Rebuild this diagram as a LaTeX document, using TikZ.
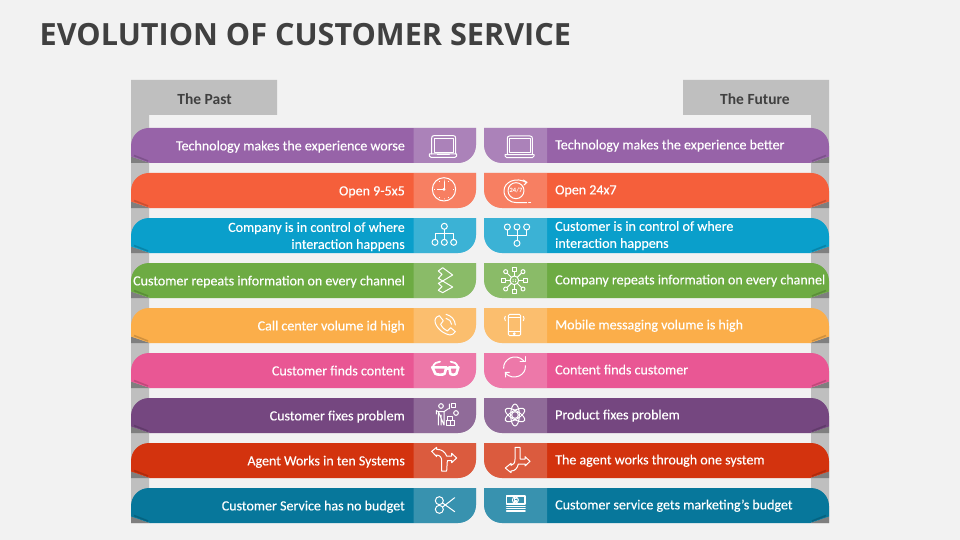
\documentclass[tikz,border=0pt]{standalone}
\usepackage{fontspec}
\setmainfont{Carlito}
\newfontfamily\titlefont{Open Sans}
\newfontfamily\barfont[FakeBold=0.25]{Carlito}
\definecolor{bgc}{HTML}{F2F2F2}
\definecolor{grayc}{HTML}{BFBFBF}
\definecolor{foldc}{HTML}{7F7F7F}
\definecolor{inkc}{HTML}{404040}
\definecolor{cpurple}{HTML}{9763A8}
\definecolor{corange}{HTML}{F55F3B}
\definecolor{cblue}{HTML}{0A9FCB}
\definecolor{cgreen}{HTML}{6DAB43}
\definecolor{cyellow}{HTML}{FBAE4A}
\definecolor{cpink}{HTML}{E95794}
\definecolor{cdpurple}{HTML}{754780}
\definecolor{cred}{HTML}{D3330E}
\definecolor{cteal}{HTML}{07779B}
\tikzset{
  bartext/.style={text=white,inner sep=0pt,font=\fontsize{14}{17}\selectfont\barfont},
  lefttext/.style={bartext,anchor=east,align=right},
  righttext/.style={bartext,anchor=west,align=left},
  headtext/.style={text=inkc,inner sep=0pt,font=\fontsize{15.5}{18}\selectfont\bfseries},
  icon/.style={draw=white,line width=1pt,line join=round,line cap=round},
  zoomA/.style={shift={(400,255)},scale=1/3},
  zoomB/.style={shift={(400,390)},scale=1/3},
  zoomC/.style={shift={(120,70)},scale=1/3},
  zoomD/.style={shift={(480,70)},scale=1/3},
}
\newcommand{\barLeft}[4]{%
  \fill[foldc] (131,#1+28.5) -- (150,#1+35) -- (131,#1+35) -- cycle;
  \fill[#2] (131,#1+28.5) -- (131,#1+18) .. controls (131,#1+8) and (139,#1) .. (149,#1)
    -- (476,#1) -- (476,#1+17) .. controls (476,#1+27) and (468,#1+35) .. (458,#1+35)
    -- (150,#1+35) -- cycle;
  \draw[#2!70!black,line width=1.6pt,opacity=.55] (134,#1+27.5) -- (148,#1+33);
  \fill[white,opacity=.2] (413.5,#1) -- (476,#1) -- (476,#1+17) .. controls (476,#1+27) and (468,#1+35) .. (458,#1+35) -- (413.5,#1+35) -- cycle;
  \node[lefttext] (#3) at (405,#1+19) {\strut #4\strut};
}
\newcommand{\barRight}[4]{%
  \fill[foldc] (829,#1+28.5) -- (810,#1+35) -- (829,#1+35) -- cycle;
  \fill[#2] (829,#1+28.5) -- (829,#1+18) .. controls (829,#1+8) and (821,#1) .. (811,#1)
    -- (484,#1) -- (484,#1+17) .. controls (484,#1+27) and (492,#1+35) .. (502,#1+35)
    -- (810,#1+35) -- cycle;
  \draw[#2!70!black,line width=1.6pt,opacity=.55] (826,#1+27.5) -- (812,#1+33);
  \fill[white,opacity=.2] (547,#1) -- (484,#1) -- (484,#1+17) .. controls (484,#1+27) and (492,#1+35) .. (502,#1+35) -- (547,#1+35) -- cycle;
  \node[righttext] (#3) at (555,#1+18) {\strut #4\strut};
}
\begin{document}
\begin{tikzpicture}[x=1pt,y=-1pt]
\useasboundingbox (0,0) rectangle (960,540);
\fill[bgc] (0,0) rectangle (960,540);
\node[anchor=base west,inner sep=0pt,text=inkc,font=\fontsize{30.6}{36}\selectfont\titlefont\bfseries] (title) at (39.5,46) {EVOLUTION OF CUSTOMER SERVICE};
% brackets
\fill[grayc] (131,80) -- (277,80) -- (277,115) -- (149,115) -- (149,523) -- (131,523) -- cycle;
\fill[grayc] (829,80) -- (683,80) -- (683,115) -- (811,115) -- (811,523) -- (829,523) -- cycle;
\node[headtext] (past) at (204.5,99) {The Past};
\node[headtext] (future) at (755,99) {The Future};
% bars
\barLeft{128}{cpurple}{l1}{Technology makes the experience worse}
\barLeft{173}{corange}{l2}{Open 9-5x5}
\barLeft{218}{cblue}{l3}{Company is in control of where\\interaction happens}
\barLeft{263}{cgreen}{l4}{Customer repeats information on every channel}
\barLeft{308}{cyellow}{l5}{Call center volume id high}
\barLeft{353}{cpink}{l6}{Customer finds content}
\barLeft{398}{cdpurple}{l7}{Customer fixes problem}
\barLeft{443}{cred}{l8}{Agent Works in ten Systems}
\barLeft{488}{cteal}{l9}{Customer Service has no budget}
\barRight{128}{cpurple}{r1}{Technology makes the experience better}
\barRight{173}{corange}{r2}{Open 24x7}
\barRight{218}{cblue}{r3}{Customer is in control of where\\interaction happens}
\barRight{263}{cgreen}{r4}{Company repeats information on every channel}
\barRight{308}{cyellow}{r5}{Mobile messaging volume is high}
\barRight{353}{cpink}{r6}{Content finds customer}
\barRight{398}{cdpurple}{r7}{Product fixes problem}
\barRight{443}{cred}{r8}{The agent works through one system}
\barRight{488}{cteal}{r9}{Customer service gets marketing’s budget}
% icon 1 left: laptop
\begin{scope}[zoomC,icon]
  \draw (935,252) -- (935,205) .. controls (935,199) and (937,197) .. (942,197) -- (1000,197) .. controls (1005,197) and (1007,199) .. (1007,205) -- (1007,252);
  \draw (943,205) rectangle (1000,247);
  \draw (928,252) -- (1010,252) -- (1010,258) -- (1005,262) -- (933,262) -- (928,258) -- cycle;
  \draw (952,255) -- (988,255);
  % clock
  \draw (972,358) circle[radius=35];
  \draw (972,335) -- (972,358) -- (952,358);
  \draw (972,358) circle[radius=3];
  \foreach \a/\b in {972/330,972/386,944/358,1000/358,958/334,986/334,958/382,986/382} \draw[line width=.6pt] (\a,\b) -- (\a,\b+1);
  % org chart
  \draw (973,469) circle[radius=9];
  \draw (973,478) -- (973,492) (945,508) -- (945,492) -- (1001,492) -- (1001,508) (973,492) -- (973,508);
  \draw (945,517) circle[radius=9] (973,517) circle[radius=9] (1001,517) circle[radius=9];
\end{scope}
% right: laptop, 24/7, tree
\begin{scope}[zoomD,icon]
  \draw (82,252) -- (82,205) .. controls (82,200) and (84,198) .. (89,198) -- (150,198) .. controls (155,198) and (157,200) .. (157,205) -- (157,252);
  \draw (89,205) rectangle (150,247);
  \draw (75,254) -- (162,254) -- (162,258) -- (157,263) -- (80,263) -- (75,258) -- cycle;
  \draw (102,255) -- (138,255);
  \draw (108,362) circle[radius=24];
  \draw (138,337) .. controls (110,320) and (72,335) .. (72,362) .. controls (72,385) and (90,398) .. (110,398) -- (140,398);
  \draw (130,330) -- (141,337) -- (132,345);
  \draw (146,398) -- (152,398);
  \draw (82,471) circle[radius=9] (111,471) circle[radius=9] (140,471) circle[radius=9];
  \draw (82,480) -- (82,496) -- (140,496) -- (140,480) (111,480) -- (111,511);
  \draw (111,520) circle[radius=9];
\end{scope}
\node[inner sep=0pt,text=white,font=\fontsize{6.5}{7}\selectfont\bfseries] (hours) at (516,190.5) {24/7};
% middle icons
\begin{scope}[zoomA,icon]
  % flow arrows
  \draw (115,48) -- (128,38) -- (158,60) -- (128,78) -- (115,70) -- (126,58) -- cycle;
  \draw (115,85) -- (128,78) -- (158,96) -- (128,113) -- (115,106) -- (126,95) -- cycle;
  % network
  \draw (343,76) circle[radius=13];
  \draw (337,38) rectangle (349,50) (337,104) rectangle (349,116) (304,70) rectangle (316,82) (371,70) rectangle (383,82);
  \draw (317,50) circle[radius=6] (369,50) circle[radius=6] (317,102) circle[radius=6] (369,102) circle[radius=6];
  \draw (343,50) -- (343,63) (343,89) -- (343,104) (316,76) -- (330,76) (356,76) -- (371,76);
  \draw (322,55) -- (334,67) (364,55) -- (352,67) (322,97) -- (334,85) (364,97) -- (352,85);
  \fill[white] (338,73) rectangle (341,76) (345,73) rectangle (348,76) (338,78) rectangle (341,81) (345,78) rectangle (348,81);
  % phone
  \draw (118,182) -- (130,197) -- (122,208) .. controls (127,218) and (133,224) .. (142,228) -- (152,218) -- (166,230) .. controls (162,236) and (156,240) .. (150,240) .. controls (120,235) and (100,205) .. (106,192) .. controls (107,187) and (112,184) .. (118,182);
  \draw (138,178) .. controls (155,182) and (165,195) .. (166,210);
  \draw (138,190) .. controls (147,192) and (154,199) .. (155,208);
  % mobile
  \draw (329,178) -- (358,178) .. controls (360,178) and (362,180) .. (362,182) -- (362,238) .. controls (362,240) and (360,242) .. (358,242) -- (329,242) .. controls (327,242) and (325,240) .. (325,238) -- (325,182) .. controls (325,180) and (327,178) .. (329,178) -- cycle;
  \draw (325,186) -- (362,186) (325,230) -- (362,230);
  \draw (343,236) circle[radius=3];
  \draw (316,184) .. controls (313,188) and (313,192) .. (316,197);
  \draw (370,184) .. controls (373,188) and (373,192) .. (370,197);
  % sync
  \draw (311,340) .. controls (308,315) and (345,290) .. (372,318);
  \draw (360,320) -- (375,320) -- (375,305);
  \draw (376,332) .. controls (380,360) and (340,380) .. (316,354);
  \draw (328,352) -- (316,352) -- (317,366);
  % glasses
  \draw[line width=2.6pt] (97,337) -- (139,337) -- (134,356) .. controls (132,360) and (110,360) .. (106,356) -- cycle;
  \draw[line width=2.6pt] (175,337) -- (148,337) -- (151,356) .. controls (153,360) and (166,360) .. (169,356) -- cycle;
  \draw[line width=2.6pt] (139,340) -- (148,340);
  \draw[line width=1.8pt] (98,337) .. controls (102,325) and (110,320) .. (120,320);
  \draw[line width=1.8pt] (174,337) .. controls (170,325) and (162,320) .. (152,320);
\end{scope}
\begin{scope}[zoomB,icon]
  % problem solver
  \draw (123,48) circle[radius=7];
  \draw (115,105) -- (115,65) -- (109,62) -- (109,72) (115,65) -- (132,65) -- (132,105) -- cycle (123,75) -- (123,105);
  \draw (148,42) -- (148,56) (132,65) -- (145,56);
  \draw (153,40) rectangle (165,52);
  \draw (168,69) circle[radius=7];
  \draw (138,92) rectangle (150,105) (150,92) rectangle (164,105) (143,78) rectangle (157,92);
  % atom
  \draw (345,75) circle[radius=10];
  \draw[rotate around={30:(345,75)}] (345,75) ellipse[x radius=33,y radius=13];
  \draw[rotate around={-30:(345,75)}] (345,75) ellipse[x radius=33,y radius=13];
  \draw (345,75) ellipse[x radius=13,y radius=33];
  % fork arrows
  \draw (125,243) -- (125,212) .. controls (125,202) and (120,196) .. (110,195) -- (110,200) -- (95,184) -- (110,172) -- (110,178) .. controls (125,178) and (135,185) .. (140,198) -- (155,198) -- (155,190) -- (170,204) -- (155,218) -- (155,212) -- (142,212) -- (140,243) -- cycle;
  % merge arrows
  \draw (345,172) -- (360,172) -- (360,207) -- (375,207) -- (375,200) -- (390,214) -- (375,228) -- (375,222) -- (355,222) .. controls (352,235) and (345,243) .. (333,243) -- (333,248) -- (316,234) -- (333,220) -- (333,226) .. controls (340,226) and (345,218) .. (345,208) -- cycle;
  % scissors
  \draw (118,332) circle[radius=12] (118,358) circle[radius=12];
  \draw (128,339) -- (164,365) -- (136,345) (128,351) -- (164,323) -- (136,345);
  % money
  \draw[line width=1.2pt] (320,318) rectangle (375,342);
  \draw (346,330) circle[radius=9];
  \draw (349,326) -- (344,326) -- (344,330) -- (348,330) -- (348,334) -- (343,334);
  \draw[line width=1.6pt] (320,349) -- (375,349) (320,356) -- (375,356) (320,363) -- (375,363);
\end{scope}
\end{tikzpicture}
\end{document}
